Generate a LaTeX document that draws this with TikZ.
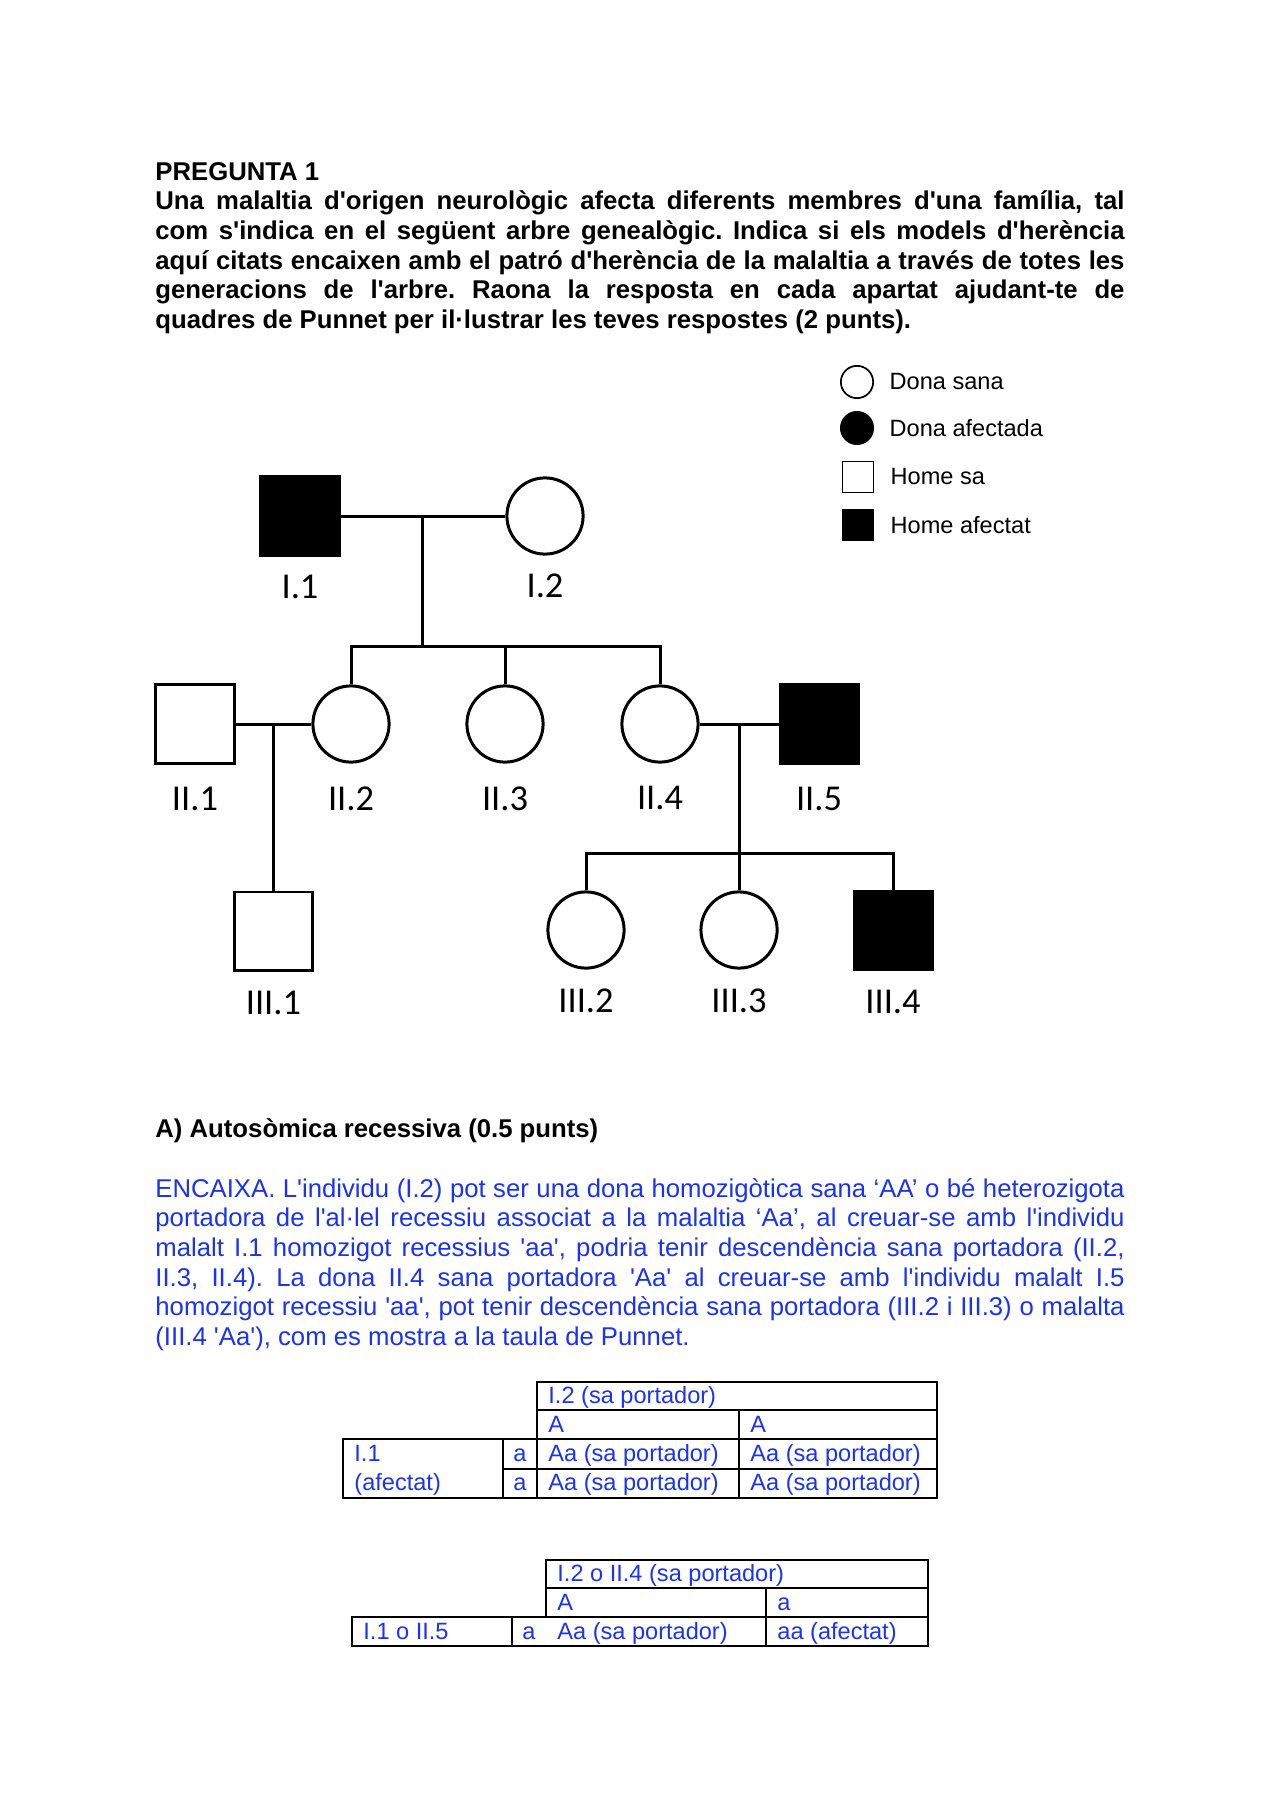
\documentclass[tikz,border=0pt]{standalone}
\usepackage{fontspec}
\defaultfontfeatures[\rmfamily]{}
\setmainfont{Liberation Sans}
\newfontfamily\labelfont{Carlito}
\usepackage{xcolor}
\usetikzlibrary{positioning, calc}
\definecolor{ansblue}{HTML}{1A33F0}
\setlength{\parindent}{0pt}
\tolerance=9999
\hyphenpenalty=10000
\frenchspacing
\tikzstyle{para}    = [inner sep=0pt, text width=159mm, align=justify,
                       font=\fontsize{12}{13.8}\selectfont]
\tikzstyle{answer}  = [para, text=ansblue]
\tikzstyle{male}    = [rectangle, draw, line width=1.4pt, minimum size=12.8mm,
                       inner sep=0pt, fill=white]
\tikzstyle{female}  = [circle, draw, line width=1.4pt, minimum size=12.5mm,
                       inner sep=0pt, fill=white]
\tikzstyle{ill}     = [fill=black]
\tikzstyle{kin}     = [line width=1.4pt]
\tikzstyle{idtag}   = [inner sep=0pt, font=\labelfont\fontsize{17}{19}\selectfont]
\tikzstyle{keysym}  = [line width=0.8pt, minimum size=5.3mm]
\tikzstyle{keytext} = [inner sep=0pt, font=\fontsize{11}{13}\selectfont]
\tikzstyle{cellline}= [line width=0.8pt]
\tikzstyle{cell}    = [inner sep=0pt, anchor=west, text=ansblue,
                       text height=1.5ex, text depth=.25ex,
                       font=\fontsize{11}{13}\selectfont]

\begin{document}
\begin{tikzpicture}[x=0.16406mm, y=-0.16406mm]
  \fill[white] (0,0) rectangle (1280,1811);
  \useasboundingbox (0,0) rectangle (1280,1811);

  %% Statement
  \node[para, anchor=north west, font=\fontsize{12}{13.8}\selectfont\bfseries]
        (intro) at (155,162)
        {PREGUNTA 1\par
         Una malaltia d'origen neurològic afecta diferents membres d'una família, tal\linebreak
         com s'indica en el següent arbre genealògic. Indica si els models d'herència\linebreak
         aquí citats encaixen amb el patró d'herència de la malaltia a través de totes les\linebreak
         generacions de l'arbre. Raona la resposta en cada apartat ajudant-te de\linebreak
         quadres de Punnet per il·lustrar les teves respostes (2 punts).};

  %% Legend
  \node[female, keysym] (k1) at (857,382) {};
  \node[female, keysym, ill] (k2) at (857,428) {};
  \node[male, keysym, minimum size=5.1mm] (k3) at (858,477) {};
  \node[male, keysym, ill, minimum size=5.1mm] (k4) at (858,525) {};
  \node[keytext, right=2.5mm of k1] (kt1) {Dona sana};
  \node[keytext, right=2.5mm of k2] (kt2) {Dona afectada};
  \node[keytext, right=2.6mm of k3] (kt3) {Home sa};
  \node[keytext, right=2.6mm of k4] (kt4) {Home afectat};

  %% Generation I
  \node[male, ill] (I1) at (300,516) {};
  \node[female] (I2) at (545,516) {};
  \node[idtag, below=2.9mm of I1] (lI1) {I.1};
  \node[idtag, below=2.9mm of I2] (lI2) {I.2};

  %% Generation II
  \node[male] (II1) at (195,724) {};
  \node[female] (II2) at (351,724) {};
  \node[female] (II3) at (505,724) {};
  \node[female] (II4) at (660,724) {};
  \node[male, ill] (II5) at (819,724) {};
  \node[idtag, below=3.7mm of II1] (lII1) {II.1};
  \node[idtag, below=3.7mm of II2] (lII2) {II.2};
  \node[idtag, below=3.7mm of II3] (lII3) {II.3};
  \node[idtag, below=3.7mm of II4] (lII4) {II.4};
  \node[idtag, below=3.7mm of II5] (lII5) {II.5};

  %% Matings
  \coordinate (m1) at ($(I1.east)!0.5!(I2.west)$);
  \coordinate (s1) at ($(m1)+(0,130)$);
  \coordinate (m2) at ($(II1.east)!0.5!(II2.west)$);
  \coordinate (m3) at ($(II4.east)!0.5!(II5.west)$);
  \coordinate (s3) at ($(m3)+(0,129)$);

  %% Generation III
  \node[male] (III1) at ($(m2)+(0,207)$) {};
  \node[female] (III2) at (586,930) {};
  \node[female] (III3) at ($(m3)+(0,206)$) {};
  \node[male, ill] (III4) at (893,930) {};
  \node[idtag, below=3.1mm of III1] (lIII1) {III.1};
  \node[idtag, below=3.1mm of III2] (lIII2) {III.2};
  \node[idtag, below=3.1mm of III3] (lIII3) {III.3};
  \node[idtag, below=3.1mm of III4] (lIII4) {III.4};

  %% Lines
  \draw[kin] (I1) -- (I2);
  \draw[kin] (m1) -- (s1);
  \draw[kin] (II2.north) -- (II2.north |- s1) -- (II4.north |- s1) -- (II4.north);
  \draw[kin] (II3) -- (II3.north |- s1);
  \draw[kin] (II1) -- (II2);
  \draw[kin] (m2) -- (III1);
  \draw[kin] (II4) -- (II5);
  \draw[kin] (m3) -- (III3);
  \draw[kin] (III2.north) -- (III2.north |- s3) -- (III4.north |- s3) -- (III4.north);

  %% Part A
  \node[para, anchor=north west, font=\fontsize{12}{13.8}\selectfont\bfseries]
        (partA) at (155,1118) {A) Autosòmica recessiva (0.5 punts)};
  \node[answer, anchor=north west] (ansA) at (155,1178)
        {ENCAIXA. L'individu (I.2) pot ser una dona homozigòtica sana ‘AA’ o bé heterozigota\linebreak
         portadora de l'al·lel recessiu associat a la malaltia ‘Aa’, al creuar-se amb l'individu\linebreak
         malalt I.1 homozigot recessius 'aa', podria tenir descendència sana portadora (II.2,\linebreak
         II.3, II.4). La dona II.4 sana portadora 'Aa' al creuar-se amb l'individu malalt I.5\linebreak
         homozigot recessiu 'aa', pot tenir descendència sana portadora (III.2 i III.3) o malalta\linebreak
         (III.4 'Aa'), com es mostra a la taula de Punnet.};

  %% Punnet 1
  \draw[cellline] (537,1382) rectangle (937,1439);
  \draw[cellline] (537,1410) -- (937,1410);
  \draw[cellline] (343,1439) rectangle (937,1498);
  \draw[cellline] (503,1469) -- (937,1469);
  \draw[cellline] (503,1439) -- (503,1498);
  \draw[cellline] (537,1439) -- (537,1498);
  \draw[cellline] (739,1410) -- (739,1498);
  \node[cell] (p1h) at (548,1396) {I.2 (sa portador)};
  \node[cell] (p1c1) at (548,1425) {A};
  \node[cell] (p1c2) at (750,1425) {A};
  \node[cell] (p1r) at (354,1454) {I.1};
  \node[cell] (p1r2) at (354,1483) {(afectat)};
  \node[cell, anchor=center] (p1a1) at (520,1454) {a};
  \node[cell, anchor=center] (p1a2) at (520,1483) {a};
  \node[cell] (p1x11) at (548,1454) {Aa (sa portador)};
  \node[cell] (p1x12) at (750,1454) {Aa (sa portador)};
  \node[cell] (p1x21) at (548,1483) {Aa (sa portador)};
  \node[cell] (p1x22) at (750,1483) {Aa (sa portador)};

  %% Punnet 2
  \draw[cellline] (546,1560) rectangle (928,1617);
  \draw[cellline] (546,1588) -- (928,1588);
  \draw[cellline] (352,1617) rectangle (928,1646);
  \draw[cellline] (512,1617) -- (512,1646);
  \draw[cellline] (766,1588) -- (766,1646);
  \node[cell] (p2h) at (557,1574) {I.2 o II.4 (sa portador)};
  \node[cell] (p2c1) at (557,1603) {A};
  \node[cell] (p2c2) at (777,1603) {a};
  \node[cell] (p2r) at (363,1632) {I.1 o II.5};
  \node[cell, anchor=center] (p2a) at (529,1632) {a};
  \node[cell] (p2x1) at (557,1632) {Aa (sa portador)};
  \node[cell] (p2x2) at (777,1632) {aa (afectat)};

\end{tikzpicture}
\end{document}
